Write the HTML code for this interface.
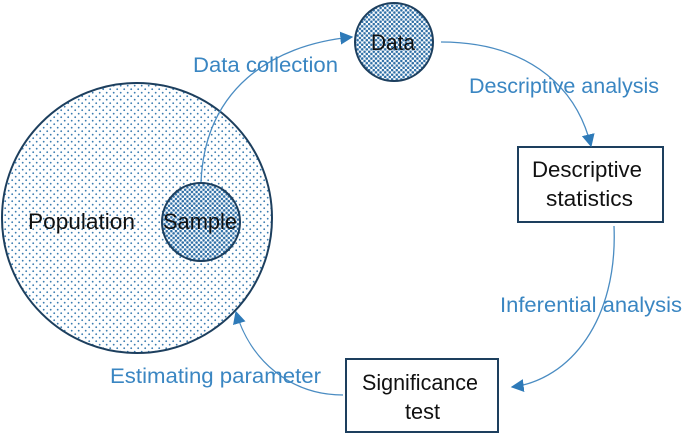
<!DOCTYPE html>
<html><head><style>
html,body{margin:0;padding:0;background:#fff;}
svg{display:block;}
text{font-family:"Liberation Sans",sans-serif;}
</style></head><body>
<svg width="685" height="434" viewBox="0 0 685 434" xmlns="http://www.w3.org/2000/svg">
<defs>
<pattern id="sp" width="7" height="7" patternUnits="userSpaceOnUse">
<circle cx="1.7" cy="1.7" r="0.9" fill="#3b7cb0"/>
<circle cx="5.2" cy="5.2" r="0.9" fill="#3b7cb0"/>
</pattern>
<pattern id="dp" width="4.6" height="4.6" patternUnits="userSpaceOnUse">
<circle cx="1.1" cy="1.1" r="1.3" fill="#2f6fa6"/>
<circle cx="3.4" cy="3.4" r="1.3" fill="#2f6fa6"/>
</pattern>
<marker id="ar" viewBox="0 0 10 10" refX="9" refY="5" markerWidth="13" markerHeight="13" orient="auto-start-reverse" markerUnits="userSpaceOnUse">
<path d="M0,0 L10,5 L0,10 z" fill="#2e7ab8"/>
</marker>
</defs>
<circle cx="137" cy="218" r="135" fill="url(#sp)" stroke="#1d3f5e" stroke-width="2"/>
<circle cx="201" cy="222" r="39" fill="#fff"/>
<circle cx="201" cy="222" r="39" fill="url(#dp)" stroke="#1d3f5e" stroke-width="2"/>
<circle cx="394" cy="42" r="39" fill="#fff"/>
<circle cx="394" cy="42" r="39" fill="url(#dp)" stroke="#1d3f5e" stroke-width="2"/>
<rect x="518" y="147" width="145" height="75" fill="#fff" stroke="#1d3f5e" stroke-width="2"/>
<rect x="346" y="359" width="152" height="73" fill="#fff" stroke="#1d3f5e" stroke-width="2"/>
<g fill="none" stroke="#4a8cc2" stroke-width="1.3">
<path d="M201,182 C205,90 270,45 352,37" marker-end="url(#ar)"/>
<path d="M441,42 C520,42 575,80 591,146" marker-end="url(#ar)"/>
<path d="M614,226 C618,320 570,380 512,387" marker-end="url(#ar)"/>
<path d="M343,395 C290,395 250,360 236,312" marker-end="url(#ar)"/>
</g>
<g font-size="22" fill="#111" lengthAdjust="spacingAndGlyphs">
<text x="28" y="229" textLength="107" lengthAdjust="spacingAndGlyphs">Population</text>
<text x="163" y="229" textLength="74" lengthAdjust="spacingAndGlyphs">Sample</text>
<text x="371" y="50" textLength="44" lengthAdjust="spacingAndGlyphs">Data</text>
<text x="532" y="177" textLength="110" lengthAdjust="spacingAndGlyphs">Descriptive</text>
<text x="546" y="206" textLength="87" lengthAdjust="spacingAndGlyphs">statistics</text>
<text x="362" y="390" textLength="116" lengthAdjust="spacingAndGlyphs">Significance</text>
<text x="405" y="419" textLength="35" lengthAdjust="spacingAndGlyphs">test</text>
</g>
<g font-size="21" fill="#3a86c2">
<text x="193" y="72" textLength="145" lengthAdjust="spacingAndGlyphs">Data collection</text>
<text x="469" y="93" textLength="190" lengthAdjust="spacingAndGlyphs">Descriptive analysis</text>
<text x="500" y="312" textLength="182" lengthAdjust="spacingAndGlyphs">Inferential analysis</text>
<text x="110" y="383" textLength="211" lengthAdjust="spacingAndGlyphs">Estimating parameter</text>
</g>
</svg>
</body></html>
